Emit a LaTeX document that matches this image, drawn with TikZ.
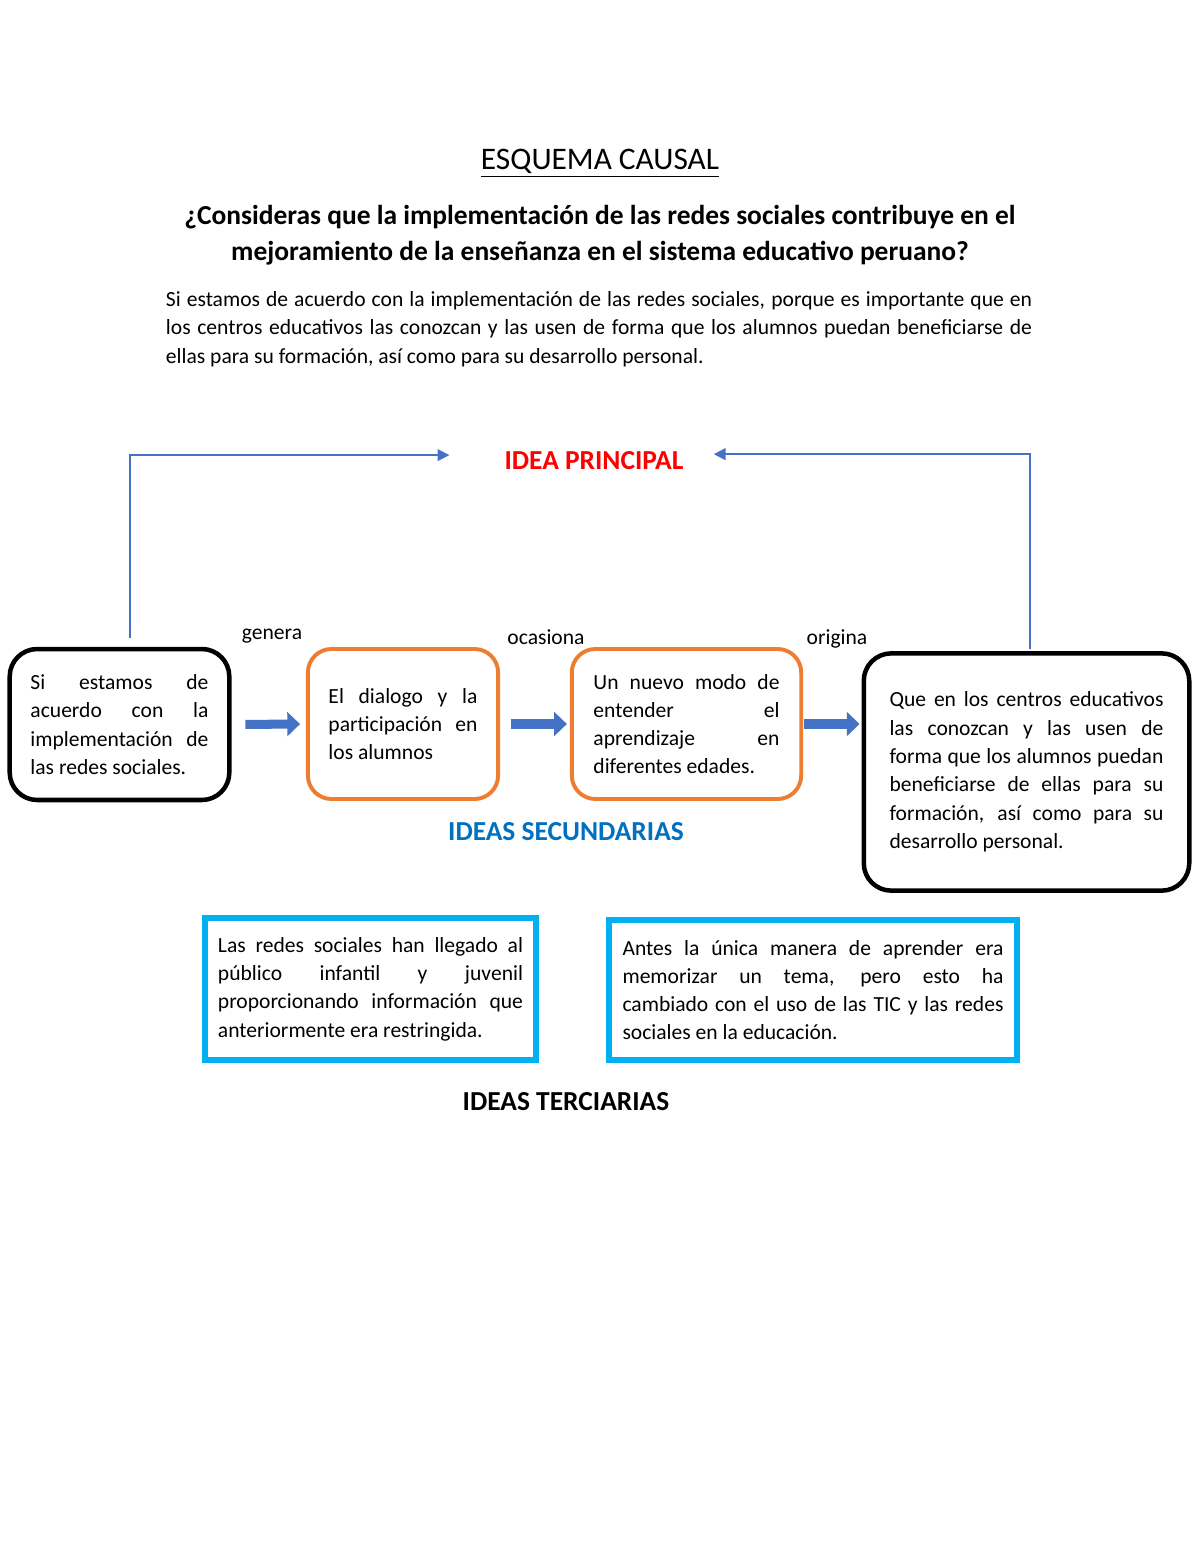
\documentclass[tikz,border=0pt]{standalone}
\usepackage{fontspec}
\setmainfont{Carlito}
\usetikzlibrary{arrows.meta}
\definecolor{linkblue}{RGB}{68, 114, 196}
\definecolor{boxorange}{RGB}{237, 125, 49}
\definecolor{boxcyan}{RGB}{0, 176, 240}
\definecolor{secblue}{RGB}{0, 112, 192}
\tikzstyle{ideabox} = [
  draw,
  inner sep=0pt,
  align=justify,
  font=\fontsize{11}{14.4}\selectfont,
]
\tikzstyle{causebox} = [ideabox, line width=2.3pt, rounded corners=14pt]
\tikzstyle{effectbox} = [ideabox, draw=boxorange, line width=2pt, rounded corners=12pt]
\tikzstyle{thirdbox} = [ideabox, draw=boxcyan, line width=3pt]
\tikzstyle{flow} = [
  draw=linkblue,
  line width=4.6pt,
  -{Triangle[length=6.5pt, width=12pt]},
]
\tikzstyle{link} = [
  draw=linkblue,
  line width=0.9pt,
  -{Triangle[length=6pt, width=6pt]},
]
\tikzstyle{verb} = [inner sep=0pt, font=\fontsize{11}{13}\selectfont]

\begin{document}
\begin{tikzpicture}[x=0.51pt, y=-0.51pt]
            \useasboundingbox (0,0) rectangle (1200,1553);

            % Header
            \node[inner sep=0pt, font=\fontsize{16}{19}\selectfont] (title) at (600,163)
              {\underline{ESQUEMA CAUSAL}};
            \node[inner sep=0pt, align=center, font=\fontsize{14}{18.4}\selectfont\bfseries] (question) at (600,235)
              {¿Consideras que la implementación de las redes sociales contribuye en el\\
               mejoramiento de la enseñanza en el sistema educativo peruano?};
            \node[inner sep=0pt, text width=441.7pt, align=justify, font=\fontsize{11}{14.5}\selectfont] (answer) at (599,329)
              {Si estamos de acuerdo con la implementación de las redes sociales, porque es importante que en\linebreak
               los centros educativos las conozcan y las usen de forma que los alumnos puedan beneficiarse de\linebreak
               ellas para su formación, así como para su desarrollo personal.};

            % Titles of the levels
            \node[inner sep=0pt, text=red, font=\fontsize{14}{17}\selectfont\bfseries] (idea) at (594,461) {IDEA PRINCIPAL};
            \node[inner sep=0pt, text=secblue, font=\fontsize{14}{17}\selectfont\bfseries] (secondary) at (566,832) {IDEAS SECUNDARIAS};
            \node[inner sep=0pt, font=\fontsize{14}{17}\selectfont\bfseries] (tertiary) at (566,1102) {IDEAS TERCIARIAS};

            % Chain of boxes
            \node[causebox, minimum width=112pt, minimum height=77pt, text width=90.8pt] (cause) at (119.5,724.5)
              {Si estamos de\linebreak acuerdo con la\linebreak implementación de\linebreak las redes sociales.};
            \node[effectbox, minimum width=97pt, minimum height=76.5pt, text width=76pt] (dialogue) at (403,724)
              {El dialogo y la\linebreak participación en\linebreak los alumnos};
            \node[effectbox, minimum width=117pt, minimum height=76.5pt, text width=94.9pt] (learning) at (686.5,724)
              {Un nuevo modo de\linebreak entender el\linebreak aprendizaje en\linebreak diferentes edades.};
            \node[causebox, minimum width=166pt, minimum height=121pt, text width=139.7pt, font=\fontsize{11}{14.5}\selectfont] (schools) at (1026.5,772)
              {Que en los centros educativos\linebreak las conozcan y las usen de\linebreak forma que los alumnos puedan\linebreak
               beneficiarse de ellas para su\linebreak formación, así como para su\linebreak desarrollo personal.};

            % Tertiary boxes
            \node[thirdbox, minimum width=169pt, minimum height=72pt, text width=155.6pt] (reach) at (370.5,989)
              {Las redes sociales han llegado al\linebreak público infantil y juvenil\linebreak
               proporcionando información que\linebreak anteriormente era restringida.};
            \node[thirdbox, minimum width=208.5pt, minimum height=71pt, text width=194.3pt] (before) at (813,990)
              {Antes la única manera de aprender era\linebreak memorizar un tema, pero esto ha\linebreak
               cambiado con el uso de las TIC y las redes\linebreak sociales en la educación.};

            % Thick arrows
            \draw[flow, shorten <=7pt, shorten >=3pt] (cause.east) -- (dialogue.west);
            \draw[flow, shorten <=5.6pt, shorten >=1.5pt] (dialogue.east) -- (learning.west);
            \draw[flow, shorten <=0.5pt, shorten >=1pt] (learning.east) -- (learning.east -| schools.west);

            % Labels
            \node[verb] (genera) at (272,636) {genera};
            \node[verb] (ocasiona) at (546,637) {ocasiona};
            \node[verb] (origina) at (837,639) {origina};

            % Links up to the main idea
            \draw[link] ([xshift=5.4pt, yshift=4.5pt]cause.north) |- ([xshift=-28pt, yshift=3pt]idea.west);
            \draw[link] ([xshift=1.8pt, yshift=1pt]schools.north) |- ([xshift=15.3pt, yshift=3.5pt]idea.east);
          \end{tikzpicture}
\end{document}
